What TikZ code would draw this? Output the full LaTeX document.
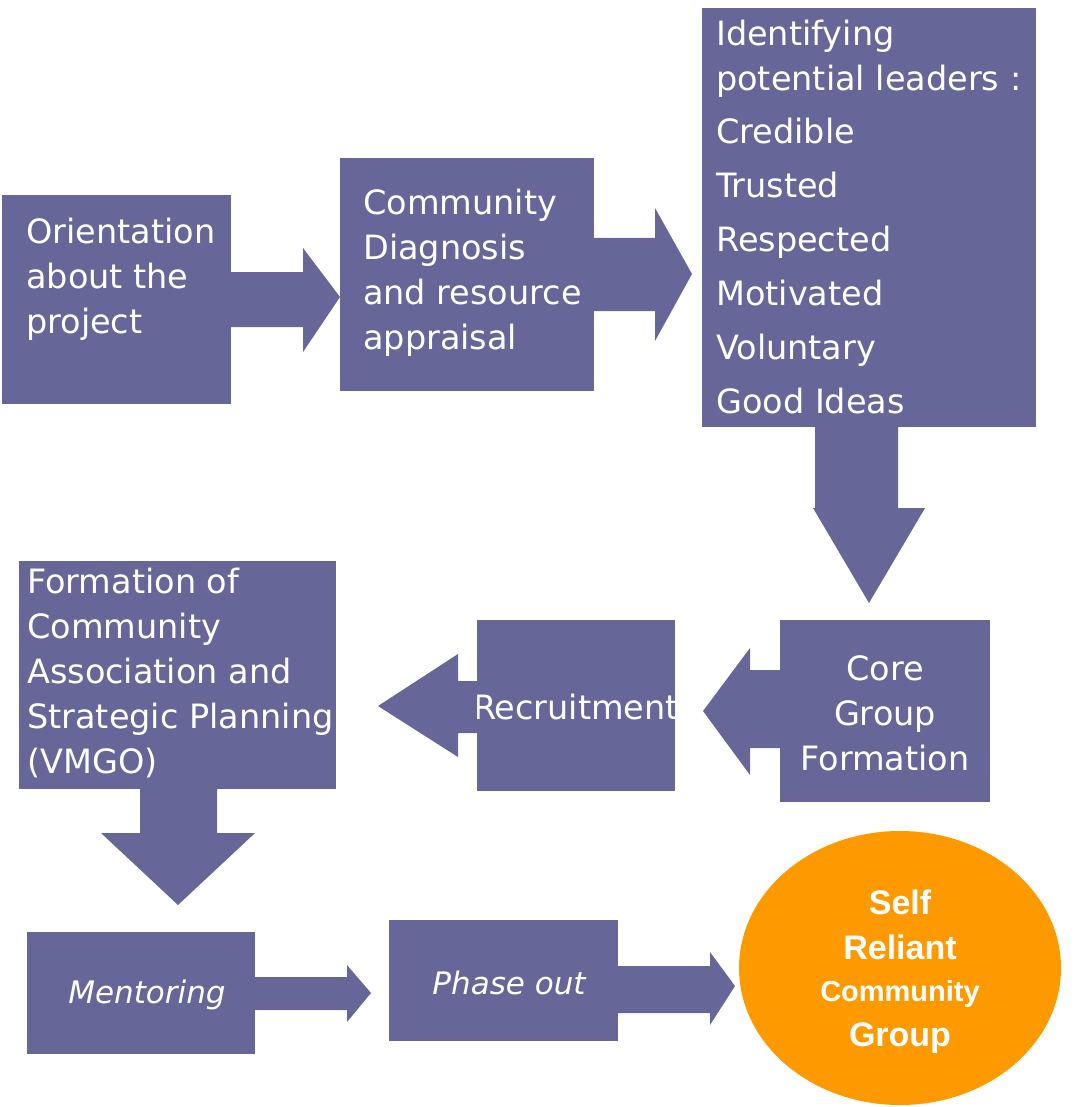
\documentclass[tikz,border=0pt]{standalone}
\usepackage{fontspec}
\setmainfont{DejaVu Sans}
\newfontfamily\arialf{Liberation Sans}
\definecolor{pur}{RGB}{102,102,153}
\definecolor{org}{RGB}{255,153,0}
\begin{document}
\begin{tikzpicture}[x=1pt,y=-1pt,
 arr/.style={fill=pur,draw=none},
 txt/.style={text=white,font=\fontsize{33.5}{45}\selectfont,align=left,anchor=north west,inner sep=0pt},
 et/.style={text=white,font=\arialf\bfseries\fontsize{34}{40}\selectfont,inner sep=0pt}]
\useasboundingbox (0,0) rectangle (1073,1107);
% boxes
\fill[pur] (2,195) rectangle (231,404); \node[txt] (b1) at (26,218) {Orientation\\about the\\project};
\fill[pur] (340,158) rectangle (594,391); \node[txt] (b2) at (363,189) {Community\\Diagnosis\\and resource\\appraisal};
\fill[pur] (702,8) rectangle (1036,427);
\node[txt] (b3) at (716,20) {Identifying\\potential leaders :};
\node[txt,font=\fontsize{33.5}{54}\selectfont] (b3b) at (716,118) {Credible\\Trusted\\Respected\\Motivated\\Voluntary\\Good Ideas};
\fill[pur] (780,620) rectangle (990,802); \node[txt,align=center,anchor=center] (b4) at (885,713) {Core\\Group\\Formation};
\fill[pur] (477,620) rectangle (675,791); \node[txt,anchor=center] (b5) at (576,707) {Recruitment};
\fill[pur] (19,561) rectangle (336,789); \node[txt] (b6) at (27,568) {Formation of\\Community\\Association and\\Strategic Planning\\(VMGO)};
\fill[pur] (27,932) rectangle (255,1054); \node[txt,anchor=center,font=\itshape\fontsize{31}{40}\selectfont] (b7) at (147,995) {Mentoring};
\fill[pur] (389,920) rectangle (618,1041); \node[txt,anchor=center,font=\itshape\fontsize{31}{40}\selectfont] (b8) at (509,983) {Phase out};
\fill[org] (900,968) ellipse [x radius=161,y radius=137];
\node[et] (e1) at (900,902) {Self};
\node[et] (e2) at (900,947) {Reliant};
\node[et,font=\arialf\bfseries\fontsize{29}{34}\selectfont] (e3) at (900,994) {Community};
\node[et] (e4) at (900,1038) {Group};
% arrows
\fill[arr] (231,272) -- (303,272) -- (303,248) -- (340,297) -- (303,352) -- (303,327) -- (231,327) -- cycle;
\fill[arr] (594,238) -- (655,238) -- (655,208) -- (692,274) -- (655,341) -- (655,311) -- (594,311) -- cycle;
\fill[arr] (815,427) -- (898,427) -- (898,508) -- (925,508) -- (869,603) -- (813,508) -- (815,508) -- cycle;
\fill[arr] (780,670) -- (750,670) -- (750,648) -- (703,711) -- (750,775) -- (750,748) -- (780,748) -- cycle;
\fill[arr] (477,681) -- (458,681) -- (458,654) -- (378,706) -- (458,757) -- (458,733) -- (477,733) -- cycle;
\fill[arr] (140,789) -- (217,789) -- (217,833) -- (255,833) -- (178,905) -- (101,833) -- (140,833) -- cycle;
\fill[arr] (255,977) -- (347,977) -- (347,965) -- (371,993) -- (347,1022) -- (347,1010) -- (255,1010) -- cycle;
\fill[arr] (618,966) -- (710,966) -- (710,952) -- (735,986) -- (710,1025) -- (710,1013) -- (618,1013) -- cycle;
\end{tikzpicture}
\end{document}
